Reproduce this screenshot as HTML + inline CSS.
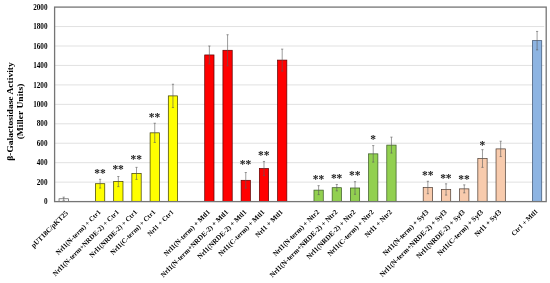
<!DOCTYPE html><html><head><meta charset="utf-8"><title>chart</title><style>html,body{margin:0;padding:0;background:#fff}svg{display:block}text{font-family:"Liberation Serif",serif;font-weight:bold;fill:#000}</style></head><body>
<svg width="550" height="283" viewBox="0 0 550 283">
<rect width="550" height="283" fill="#fff"/>
<line x1="54.6" y1="182.15" x2="544.2" y2="182.15" stroke="#dedede" stroke-width="0.9"/>
<line x1="54.6" y1="162.70" x2="544.2" y2="162.70" stroke="#dedede" stroke-width="0.9"/>
<line x1="54.6" y1="143.25" x2="544.2" y2="143.25" stroke="#dedede" stroke-width="0.9"/>
<line x1="54.6" y1="123.80" x2="544.2" y2="123.80" stroke="#dedede" stroke-width="0.9"/>
<line x1="54.6" y1="104.35" x2="544.2" y2="104.35" stroke="#dedede" stroke-width="0.9"/>
<line x1="54.6" y1="84.90" x2="544.2" y2="84.90" stroke="#dedede" stroke-width="0.9"/>
<line x1="54.6" y1="65.45" x2="544.2" y2="65.45" stroke="#dedede" stroke-width="0.9"/>
<line x1="54.6" y1="46.00" x2="544.2" y2="46.00" stroke="#dedede" stroke-width="0.9"/>
<line x1="54.6" y1="26.55" x2="544.2" y2="26.55" stroke="#dedede" stroke-width="0.9"/>
<rect x="59.05" y="198.78" width="9.3" height="2.82" fill="#ffffff" stroke="#555555" stroke-width="0.7"/>
<path d="M63.70 197.13V200.43M62.60 197.13h2.2M62.60 200.43h2.2" stroke="#5a5a5a" stroke-width="0.6" fill="none"/>
<rect x="95.47" y="183.71" width="9.3" height="17.89" fill="#ffff00" stroke="#3a3a00" stroke-width="0.7"/>
<path d="M100.12 179.33V188.08M99.02 179.33h2.2M99.02 188.08h2.2" stroke="#5a5a5a" stroke-width="0.6" fill="none"/>
<text x="97.07 102.77" y="177" text-anchor="middle" style="font-size:11.5px;font-weight:bold;fill:#222">**</text>
<rect x="113.68" y="181.57" width="9.3" height="20.03" fill="#ffff00" stroke="#3a3a00" stroke-width="0.7"/>
<path d="M118.33 176.51V186.62M117.23 176.51h2.2M117.23 186.62h2.2" stroke="#5a5a5a" stroke-width="0.6" fill="none"/>
<text x="115.28 120.98" y="173" text-anchor="middle" style="font-size:11.5px;font-weight:bold;fill:#222">**</text>
<rect x="131.88" y="173.40" width="9.3" height="28.20" fill="#ffff00" stroke="#3a3a00" stroke-width="0.7"/>
<path d="M136.53 167.37V179.43M135.43 167.37h2.2M135.43 179.43h2.2" stroke="#5a5a5a" stroke-width="0.6" fill="none"/>
<text x="133.48 139.18" y="163" text-anchor="middle" style="font-size:11.5px;font-weight:bold;fill:#222">**</text>
<rect x="150.09" y="132.84" width="9.3" height="68.76" fill="#ffff00" stroke="#3a3a00" stroke-width="0.7"/>
<path d="M154.74 123.22V142.47M153.64 123.22h2.2M153.64 142.47h2.2" stroke="#5a5a5a" stroke-width="0.6" fill="none"/>
<text x="151.69 157.39" y="121" text-anchor="middle" style="font-size:11.5px;font-weight:bold;fill:#222">**</text>
<rect x="168.30" y="95.89" width="9.3" height="105.71" fill="#ffff00" stroke="#3a3a00" stroke-width="0.7"/>
<path d="M172.95 84.22V107.56M171.85 84.22h2.2M171.85 107.56h2.2" stroke="#5a5a5a" stroke-width="0.6" fill="none"/>
<rect x="204.71" y="54.95" width="9.3" height="146.65" fill="#ff0000" stroke="#5a0000" stroke-width="0.7"/>
<path d="M209.36 46.00V63.89M208.26 46.00h2.2M208.26 63.89h2.2" stroke="#5a5a5a" stroke-width="0.6" fill="none"/>
<rect x="222.92" y="50.28" width="9.3" height="151.32" fill="#ff0000" stroke="#5a0000" stroke-width="0.7"/>
<path d="M227.57 34.72V65.84M226.47 34.72h2.2M226.47 65.84h2.2" stroke="#5a5a5a" stroke-width="0.6" fill="none"/>
<rect x="241.13" y="180.30" width="9.3" height="21.30" fill="#ff0000" stroke="#5a0000" stroke-width="0.7"/>
<path d="M245.78 172.52V188.08M244.68 172.52h2.2M244.68 188.08h2.2" stroke="#5a5a5a" stroke-width="0.6" fill="none"/>
<text x="242.73 248.43" y="168" text-anchor="middle" style="font-size:11.5px;font-weight:bold;fill:#222">**</text>
<rect x="259.34" y="168.53" width="9.3" height="33.06" fill="#ff0000" stroke="#5a0000" stroke-width="0.7"/>
<path d="M263.99 161.44V175.63M262.89 161.44h2.2M262.89 175.63h2.2" stroke="#5a5a5a" stroke-width="0.6" fill="none"/>
<text x="260.94 266.64" y="159" text-anchor="middle" style="font-size:11.5px;font-weight:bold;fill:#222">**</text>
<rect x="277.54" y="60.10" width="9.3" height="141.50" fill="#ff0000" stroke="#5a0000" stroke-width="0.7"/>
<path d="M282.19 49.11V71.09M281.09 49.11h2.2M281.09 71.09h2.2" stroke="#5a5a5a" stroke-width="0.6" fill="none"/>
<rect x="313.96" y="190.12" width="9.3" height="11.48" fill="#92d050" stroke="#375623" stroke-width="0.7"/>
<path d="M318.61 185.65V194.60M317.51 185.65h2.2M317.51 194.60h2.2" stroke="#5a5a5a" stroke-width="0.6" fill="none"/>
<text x="315.56 321.26" y="183" text-anchor="middle" style="font-size:11.5px;font-weight:bold;fill:#222">**</text>
<rect x="332.16" y="187.69" width="9.3" height="13.91" fill="#92d050" stroke="#375623" stroke-width="0.7"/>
<path d="M336.81 184.48V190.90M335.71 184.48h2.2M335.71 190.90h2.2" stroke="#5a5a5a" stroke-width="0.6" fill="none"/>
<text x="333.76 339.46" y="182" text-anchor="middle" style="font-size:11.5px;font-weight:bold;fill:#222">**</text>
<rect x="350.37" y="187.98" width="9.3" height="13.62" fill="#92d050" stroke="#375623" stroke-width="0.7"/>
<path d="M355.02 181.66V194.31M353.92 181.66h2.2M353.92 194.31h2.2" stroke="#5a5a5a" stroke-width="0.6" fill="none"/>
<text x="351.97 357.67" y="179" text-anchor="middle" style="font-size:11.5px;font-weight:bold;fill:#222">**</text>
<rect x="368.58" y="153.85" width="9.3" height="47.75" fill="#92d050" stroke="#375623" stroke-width="0.7"/>
<path d="M373.23 145.58V162.12M372.13 145.58h2.2M372.13 162.12h2.2" stroke="#5a5a5a" stroke-width="0.6" fill="none"/>
<text x="373.03" y="143" text-anchor="middle" style="font-size:11.5px;font-weight:bold;fill:#222">*</text>
<rect x="386.79" y="145.10" width="9.3" height="56.50" fill="#92d050" stroke="#375623" stroke-width="0.7"/>
<path d="M391.44 137.12V153.07M390.34 137.12h2.2M390.34 153.07h2.2" stroke="#5a5a5a" stroke-width="0.6" fill="none"/>
<rect x="423.20" y="187.50" width="9.3" height="14.10" fill="#f8cbad" stroke="#4a3a30" stroke-width="0.7"/>
<path d="M427.85 181.27V193.72M426.75 181.27h2.2M426.75 193.72h2.2" stroke="#5a5a5a" stroke-width="0.6" fill="none"/>
<text x="424.80 430.50" y="179" text-anchor="middle" style="font-size:11.5px;font-weight:bold;fill:#222">**</text>
<rect x="441.41" y="189.44" width="9.3" height="12.16" fill="#f8cbad" stroke="#4a3a30" stroke-width="0.7"/>
<path d="M446.06 183.80V195.08M444.96 183.80h2.2M444.96 195.08h2.2" stroke="#5a5a5a" stroke-width="0.6" fill="none"/>
<text x="443.01 448.71" y="182" text-anchor="middle" style="font-size:11.5px;font-weight:bold;fill:#222">**</text>
<rect x="459.62" y="188.86" width="9.3" height="12.74" fill="#f8cbad" stroke="#4a3a30" stroke-width="0.7"/>
<path d="M464.27 184.87V192.85M463.17 184.87h2.2M463.17 192.85h2.2" stroke="#5a5a5a" stroke-width="0.6" fill="none"/>
<text x="461.22 466.92" y="183" text-anchor="middle" style="font-size:11.5px;font-weight:bold;fill:#222">**</text>
<rect x="477.82" y="158.52" width="9.3" height="43.08" fill="#f8cbad" stroke="#4a3a30" stroke-width="0.7"/>
<path d="M482.47 149.67V167.37M481.37 149.67h2.2M481.37 167.37h2.2" stroke="#5a5a5a" stroke-width="0.6" fill="none"/>
<text x="482.27" y="149" text-anchor="middle" style="font-size:11.5px;font-weight:bold;fill:#222">*</text>
<rect x="496.03" y="148.89" width="9.3" height="52.71" fill="#f8cbad" stroke="#4a3a30" stroke-width="0.7"/>
<path d="M500.68 141.21V156.57M499.58 141.21h2.2M499.58 156.57h2.2" stroke="#5a5a5a" stroke-width="0.6" fill="none"/>
<rect x="532.45" y="40.65" width="9.3" height="160.95" fill="#8db4e2" stroke="#3b4f6b" stroke-width="0.7"/>
<path d="M537.10 31.41V49.89M536.00 31.41h2.2M536.00 49.89h2.2" stroke="#5a5a5a" stroke-width="0.6" fill="none"/>
<rect x="54.6" y="7.1" width="491.6" height="194.5" fill="none" stroke="#757575" stroke-width="1.3"/>
<text x="47.5" y="204.20" text-anchor="end" style="font-size:7.2px">0</text>
<text x="47.5" y="184.75" text-anchor="end" style="font-size:7.2px">200</text>
<text x="47.5" y="165.30" text-anchor="end" style="font-size:7.2px">400</text>
<text x="47.5" y="145.85" text-anchor="end" style="font-size:7.2px">600</text>
<text x="47.5" y="126.40" text-anchor="end" style="font-size:7.2px">800</text>
<text x="47.5" y="106.95" text-anchor="end" style="font-size:7.2px">1000</text>
<text x="47.5" y="87.50" text-anchor="end" style="font-size:7.2px">1200</text>
<text x="47.5" y="68.05" text-anchor="end" style="font-size:7.2px">1400</text>
<text x="47.5" y="48.60" text-anchor="end" style="font-size:7.2px">1600</text>
<text x="47.5" y="29.15" text-anchor="end" style="font-size:7.2px">1800</text>
<text x="47.5" y="9.70" text-anchor="end" style="font-size:7.2px">2000</text>
<text transform="translate(12.5,111.5) rotate(-90) scale(1.165,1)" text-anchor="middle" style="font-size:8.2px">β-Galactosidase Activity</text>
<text transform="translate(23.2,111.5) rotate(-90) scale(1.165,1)" text-anchor="middle" style="font-size:8.2px">(Miller Units)</text>
<text transform="translate(68.60,213.50) rotate(-45)" text-anchor="end" style="font-size:7.1px">pUT18C/pKT25</text>
<text transform="translate(101.22,212.50) rotate(-45)" text-anchor="end" style="font-size:6.9px">Nrl1(N-term) + Ctr1</text>
<text transform="translate(119.43,212.50) rotate(-45)" text-anchor="end" style="font-size:6.95px">Nrl1(N-term+NRDE-2) + Ctr1</text>
<text transform="translate(137.63,212.50) rotate(-45)" text-anchor="end" style="font-size:6.9px">Nrl1(NRDE-2) + Ctr1</text>
<text transform="translate(155.84,212.50) rotate(-45)" text-anchor="end" style="font-size:6.9px">Nrl1(C-term) + Ctr1</text>
<text transform="translate(174.05,212.50) rotate(-45)" text-anchor="end" style="font-size:6.8px">Nrl1 + Ctr1</text>
<text transform="translate(210.46,212.50) rotate(-45)" text-anchor="end" style="font-size:7.05px">Nrl1(N-term) + Mtl1</text>
<text transform="translate(228.67,212.50) rotate(-45)" text-anchor="end" style="font-size:7.05px">Nrl1(N-term+NRDE-2) + Mtl1</text>
<text transform="translate(246.88,212.50) rotate(-45)" text-anchor="end" style="font-size:7.05px">Nrl1(NRDE-2) + Mtl1</text>
<text transform="translate(265.09,212.50) rotate(-45)" text-anchor="end" style="font-size:7.05px">Nrl1(C-term) + Mtl1</text>
<text transform="translate(283.29,212.50) rotate(-45)" text-anchor="end" style="font-size:7.05px">Nrl1 + Mtl1</text>
<text transform="translate(319.71,212.50) rotate(-45)" text-anchor="end" style="font-size:7.1px">Nrl1(N-term) + Ntr2</text>
<text transform="translate(337.91,212.50) rotate(-45)" text-anchor="end" style="font-size:7.1px">Nrl1(N-term+NRDE-2) + Ntr2</text>
<text transform="translate(356.12,212.50) rotate(-45)" text-anchor="end" style="font-size:7.1px">Nrl1(NRDE-2) + Ntr2</text>
<text transform="translate(374.33,212.50) rotate(-45)" text-anchor="end" style="font-size:7.1px">Nrl1(C-term) + Ntr2</text>
<text transform="translate(392.54,212.50) rotate(-45)" text-anchor="end" style="font-size:7.1px">Nrl1 + Ntr2</text>
<text transform="translate(428.95,212.50) rotate(-45)" text-anchor="end" style="font-size:7.1px">Nrl1(N-term) + Syf3</text>
<text transform="translate(447.16,212.50) rotate(-45)" text-anchor="end" style="font-size:7.1px">Nrl1(N-term+NRDE-2) + Syf3</text>
<text transform="translate(465.37,212.50) rotate(-45)" text-anchor="end" style="font-size:7.1px">Nrl1(NRDE-2) + Syf3</text>
<text transform="translate(483.57,212.50) rotate(-45)" text-anchor="end" style="font-size:7.1px">Nrl1(C-term) + Syf3</text>
<text transform="translate(501.78,212.50) rotate(-45)" text-anchor="end" style="font-size:7.1px">Nrl1 + Syf3</text>
<text transform="translate(538.40,211.80) rotate(-45)" text-anchor="end" style="font-size:6.75px">Ctr1 + Mtl1</text>
</svg></body></html>
